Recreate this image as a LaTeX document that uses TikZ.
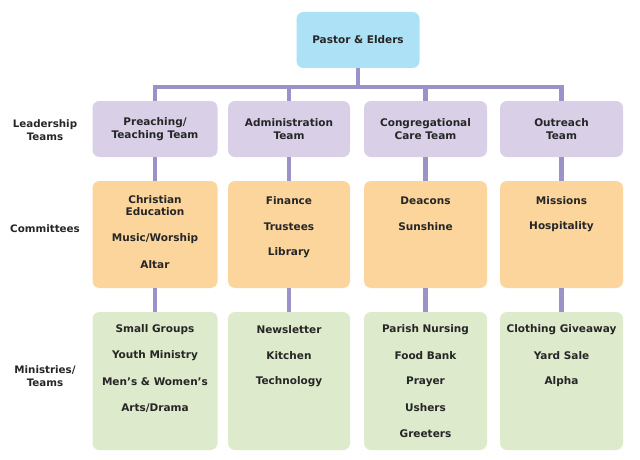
\documentclass[tikz,border=0pt]{standalone}
\usepackage{fontspec}
\setmainfont{DejaVu Sans}
\begin{document}
\begin{tikzpicture}[x=1pt,y=-1pt,
  bx/.style={draw=none,rounded corners=7pt,inner sep=0pt},
  lead/.style={bx,fill=lav},
  comm/.style={bx,fill=ora},
  mini/.style={bx,fill=grn},
  t/.style={font=\bfseries\fontsize{10.5}{12.8}\selectfont,align=center,inner sep=0pt,text=black!85},
  side/.style={font=\bfseries\fontsize{10.3}{12.8}\selectfont,align=center,inner sep=0pt,text=black!85},
  ln/.style={draw=lin,line width=4.5pt}]
\definecolor{lav}{HTML}{D9D0E8}
\definecolor{ora}{HTML}{FCD59D}
\definecolor{grn}{HTML}{DDEACB}
\definecolor{blu}{HTML}{ADE2F6}
\definecolor{lin}{HTML}{9C92C9}
\useasboundingbox (0,0) rectangle (640,460);
\fill[white] (0,0) rectangle (640,460);
\coordinate (hl) at (155,87); \coordinate (hr) at (561.5,87); \coordinate (hm) at (358,87);
\coordinate (h2) at (289,87); \coordinate (h3) at (425.5,87);
\node[bx,fill=blu,minimum width=123,minimum height=56] (top) at (358,40) {};
\foreach \n/\x/\w in {1/155/125,2/289/122,3/425.5/123,4/561.5/123}{
  \node[lead,minimum width=\w,minimum height=56] (L\n) at (\x,129) {};
  \node[comm,minimum width=\w,minimum height=107] (C\n) at (\x,234.5) {};
  \node[mini,minimum width=\w,minimum height=138] (M\n) at (\x,381) {};
}
\draw[ln] (top.south) -- (hm);
\draw[ln] ([xshift=-2.25pt]hl) -- ([xshift=2.25pt]hr);
\draw[ln] (hl) -- (L1.north); \draw[ln] (h2) -- (L2.north);
\draw[ln] (h3) -- (L3.north); \draw[ln] (hr) -- (L4.north);
\foreach \n in {1,...,4}{
  \draw[ln] (L\n.south) -- (C\n.north);
  \draw[ln] (C\n.south) -- (M\n.north);
}
\node[t] (tt) at (top) {Pastor \& Elders};
\node[t] (l1) at (L1) {Preaching/\\Teaching Team};
\node[t] (l2) at (L2) {Administration\\Team};
\node[t] (l3) at (L3) {Congregational\\Care Team};
\node[t] (l4) at (L4) {Outreach\\Team};
\node[t,anchor=north] (c11) at (155,195) {Christian\\Education};
\node[t] (c12) at (155,239) {Music/Worship};
\node[t] (c13) at (155,265) {Altar};
\node[t] (c21) at (289,201) {Finance};
\node[t] (c22) at (289,227) {Trustees};
\node[t] (c23) at (289,253) {Library};
\node[t] (c31) at (425.5,201) {Deacons};
\node[t] (c32) at (425.5,227) {Sunshine};
\node[t] (c41) at (561.5,201) {Missions};
\node[t] (c42) at (561.5,227) {Hospitality};
\node[t] (m11) at (155,330) {Small Groups};
\node[t] (m12) at (155,356) {Youth Ministry};
\node[t] (m13) at (155,382) {Men's \& Women's};
\node[t] (m14) at (155,408) {Arts/Drama};
\node[t] (m21) at (289,330) {Newsletter};
\node[t] (m22) at (289,356) {Kitchen};
\node[t] (m23) at (289,382) {Technology};
\node[t] (m31) at (425.5,330) {Parish Nursing};
\node[t] (m32) at (425.5,356) {Food Bank};
\node[t] (m33) at (425.5,382) {Prayer};
\node[t] (m34) at (425.5,408) {Ushers};
\node[t] (m35) at (425.5,434) {Greeters};
\node[t] (m41) at (561.5,330) {Clothing Giveaway};
\node[t] (m42) at (561.5,356) {Yard Sale};
\node[t] (m43) at (561.5,382) {Alpha};
\node[side] (s1) at (45,130) {Leadership\\Teams};
\node[side] (s2) at (45,229) {Committees};
\node[side] (s3) at (45,376) {Ministries/\\Teams};
\end{tikzpicture}
\end{document}
